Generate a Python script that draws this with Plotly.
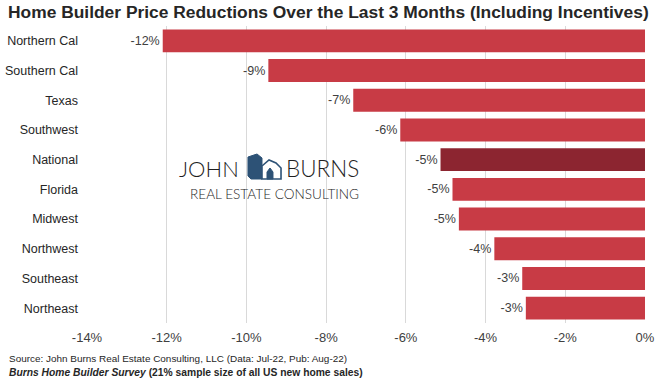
import plotly.graph_objects as go

regions = ["Northern Cal", "Southern Cal", "Texas", "Southwest", "National",
           "Florida", "Midwest", "Northwest", "Southeast", "Northeast"]
reductions = [-12.1, -9.45, -7.32, -6.14, -5.13, -4.83, -4.67, -3.78, -3.08, -2.99]
highlight = "National"
x_ticks = [-14, -12, -10, -8, -6, -4, -2, 0]
x_tick_labels = ["-14%", "-12%", "-10%", "-8%", "-6%", "-4%", "-2%", "0%"]

RED = "#C83B45"
DARK = "#8C2530"
colors = [DARK if r == highlight else RED for r in regions]
labels = [f"{v:.0f}%" for v in reductions]

FONT = "Liberation Sans, Arial, sans-serif"

fig = go.Figure(go.Bar(
    y=regions, x=reductions, orientation="h",
    marker=dict(color=colors, line=dict(width=0)),
    width=0.77,
    text=labels, textposition="outside", cliponaxis=False,
    textfont=dict(family=FONT, size=12.5, color="#404040"),
))

W, H = 657, 383
L, R, T, B = 87, 12, 26, 60
pw, ph = W - L - R, H - T - B

def px(x):
    return (x - L) / pw

def py(y):
    return (H - B - y) / ph

fig.update_layout(
    width=W, height=H,
    margin=dict(l=L, r=R, t=T, b=B, autoexpand=False),
    plot_bgcolor="white", paper_bgcolor="white",
    showlegend=False,
    font=dict(family=FONT, color="#262626"),
    xaxis=dict(range=[-14, 0], tickvals=x_ticks, ticktext=x_tick_labels,
               showgrid=True, gridcolor="#D9D9D9", gridwidth=1, automargin=False,
               zeroline=False, showline=False, ticks="",
               tickfont=dict(size=13, color="#404040"), ticklabelstandoff=5),
    yaxis=dict(autorange="reversed", showgrid=False, zeroline=False, automargin=False,
               showline=False, ticks="", tickfont=dict(size=12.5, color="#262626"),
               ticklabelstandoff=8),
    bargap=0.23,
)

annotations = [
    dict(text="<b>Home Builder Price Reductions Over the Last 3 Months (Including Incentives)</b>",
         x=px(6), y=py(12), xanchor="left", yanchor="middle",
         font=dict(size=17.4, color="#262626", family=FONT)),
    dict(text="Source: John Burns Real Estate Consulting, LLC (Data: Jul-22, Pub: Aug-22)",
         x=px(7), y=py(358), xanchor="left", yanchor="middle",
         font=dict(size=9.95, color="#262626", family=FONT)),
    dict(text="<b><i>Burns Home Builder Survey</i> (21% sample size of all US new home sales)</b>",
         x=px(7), y=py(373), xanchor="left", yanchor="middle",
         font=dict(size=10.3, color="#262626", family=FONT)),
    dict(text="JOHN", x=px(241), y=py(168), xanchor="right", yanchor="middle",
         font=dict(size=22, color="#1F1F1F", family="Lato, sans-serif", weight=300)),
    dict(text="BURNS", x=px(284), y=py(168), xanchor="left", yanchor="middle",
         font=dict(size=22.5, color="#1F1F1F", family="Lato, sans-serif", weight=300)),
    dict(text="REAL ESTATE CONSULTING", x=px(274), y=py(194), xanchor="center", yanchor="middle",
         font=dict(size=13.6, color="#262626", family="Lato, sans-serif", weight=300)),
]
for a in annotations:
    a.update(xref="paper", yref="paper", showarrow=False)
fig.update_layout(annotations=annotations)

NAVY = "#2D5276"
def pth(points):
    s = "M " + " L ".join(f"{px(a):.4f},{py(b):.4f}" for a, b in points) + " Z"
    return s

# logo icon (decorative)
fig.add_shape(type="path", xref="paper", yref="paper",
              path=pth([(248, 157), (257, 154), (262, 158), (262, 179), (251, 179), (248, 176)]),
              fillcolor=NAVY, line=dict(color=NAVY, width=1))
fig.add_shape(type="path", xref="paper", yref="paper",
              path=pth([(262, 166), (269, 160), (276, 163), (281, 168), (281, 179), (262, 179)]),
              fillcolor="white", line=dict(color=NAVY, width=1.6))
fig.add_shape(type="path", xref="paper", yref="paper",
              path=pth([(267, 172), (270, 168), (273, 172), (273, 179), (267, 179)]),
              fillcolor=NAVY, line=dict(color=NAVY, width=1))

fig.write_html("out.html", config={"displayModeBar": False},
               post_script="document.body.style.margin='0';document.body.style.overflow='hidden';")
